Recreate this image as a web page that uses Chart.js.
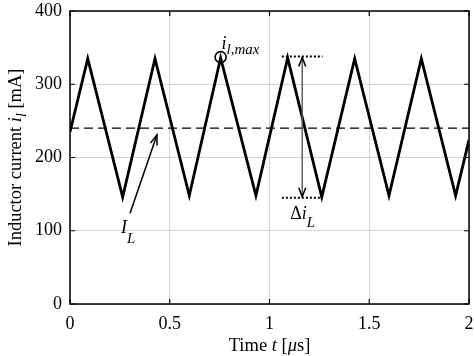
<!DOCTYPE html>
<html>
<head>
<meta charset="utf-8">
<script src="https://cdn.jsdelivr.net/npm/chart.js@4.4.1/dist/chart.umd.min.js"></script>
<style>
  html, body { margin: 0; padding: 0; background: #fff; }
  #wrap { width: 474px; height: 356px; }
</style>
</head>
<body>
<div id="wrap"><canvas id="c" width="474" height="356"></canvas></div>
<script>
// ---- data ----
const vertexTimes    = [0, 0.089, 0.264, 0.426, 0.598, 0.755, 0.932, 1.091, 1.262, 1.427, 1.599, 1.761, 1.933, 2.0];
const vertexCurrents = [235, 335, 146, 335, 148, 336, 148, 336, 146, 335, 148, 335, 148, 224];
const meanCurrent = 240;
const meanTimes = [0, 2];
const xTickValues = [0, 0.5, 1, 1.5, 2];
const yTickValues = [0, 100, 200, 300, 400];
// annotation anchors (data units)
const peakMarker = { t: 0.755, i: 337 };
const rippleTop = 338, rippleBottom = 145;
const rippleSpan = [1.062, 1.266];
const rippleArrowT = 1.164;
const meanArrowTail = { t: 0.301, i: 124 };
const meanArrowHead = { t: 0.436, i: 231 };

const FONT = "'Liberation Serif', 'Times New Roman', serif";

function drawMixed(ctx, segs, x, y, align) {
  let total = 0;
  const widths = segs.map(s => {
    ctx.font = (s.italic ? 'italic ' : '') + s.size + 'px ' + FONT;
    const w = ctx.measureText(s.text).width;
    total += w;
    return w;
  });
  let cx = align === 'center' ? x - total / 2 : x;
  segs.forEach((s, k) => {
    ctx.font = (s.italic ? 'italic ' : '') + s.size + 'px ' + FONT;
    ctx.fillText(s.text, cx, y + (s.dy || 0));
    cx += widths[k];
  });
}

function arrowHead(ctx, tx, ty, ang, len, hw) {
  const bx = tx - Math.cos(ang) * len, by = ty - Math.sin(ang) * len;
  const nx = -Math.sin(ang) * hw, ny = Math.cos(ang) * hw;
  ctx.beginPath();
  ctx.moveTo(bx + nx, by + ny);
  ctx.lineTo(tx, ty);
  ctx.lineTo(bx - nx, by - ny);
  ctx.stroke();
}

const decorPlugin = {
  id: 'decor',
  afterDraw(chart) {
    const ctx = chart.ctx;
    const xs = chart.scales.x, ys = chart.scales.y;
    const a = chart.chartArea;
    ctx.save();
    ctx.strokeStyle = '#000';
    ctx.lineWidth = 1.5;
    ctx.strokeRect(a.left, a.top, a.right - a.left, a.bottom - a.top);
    ctx.lineWidth = 1.2;
    const tl = 5;
    xTickValues.forEach(v => {
      const px = xs.getPixelForValue(v);
      ctx.beginPath();
      ctx.moveTo(px, a.bottom); ctx.lineTo(px, a.bottom - tl);
      ctx.moveTo(px, a.top); ctx.lineTo(px, a.top + tl);
      ctx.stroke();
    });
    yTickValues.forEach(v => {
      const py = ys.getPixelForValue(v);
      ctx.beginPath();
      ctx.moveTo(a.left, py); ctx.lineTo(a.left + tl, py);
      ctx.moveTo(a.right, py); ctx.lineTo(a.right - tl, py);
      ctx.stroke();
    });

    const cx = xs.getPixelForValue(peakMarker.t), cy = ys.getPixelForValue(peakMarker.i);
    ctx.lineWidth = 1.6;
    ctx.beginPath(); ctx.arc(cx, cy, 5.5, 0, Math.PI * 2); ctx.stroke();

    ctx.setLineDash([2, 2]);
    ctx.lineWidth = 2;
    const x0 = xs.getPixelForValue(rippleSpan[0]), x1 = xs.getPixelForValue(rippleSpan[1]);
    const yt = ys.getPixelForValue(rippleTop), yb = ys.getPixelForValue(rippleBottom);
    ctx.beginPath();
    ctx.moveTo(x0, yt); ctx.lineTo(x1, yt);
    ctx.moveTo(x0, yb); ctx.lineTo(x1, yb);
    ctx.stroke();
    ctx.setLineDash([]);

    const ax = xs.getPixelForValue(rippleArrowT);
    ctx.strokeStyle = '#555';
    ctx.lineWidth = 1.4;
    ctx.beginPath(); ctx.moveTo(ax, yt + 1); ctx.lineTo(ax, yb - 1); ctx.stroke();
    ctx.strokeStyle = '#000';
    ctx.lineWidth = 1.5;
    arrowHead(ctx, ax, yt + 1, -Math.PI / 2, 9, 3.5);
    arrowHead(ctx, ax, yb - 1, Math.PI / 2, 9, 3.5);

    const tx0 = xs.getPixelForValue(meanArrowTail.t), ty0 = ys.getPixelForValue(meanArrowTail.i);
    const tx1 = xs.getPixelForValue(meanArrowHead.t), ty1 = ys.getPixelForValue(meanArrowHead.i);
    ctx.lineWidth = 1.5;
    ctx.beginPath(); ctx.moveTo(tx0, ty0); ctx.lineTo(tx1, ty1); ctx.stroke();
    arrowHead(ctx, tx1, ty1, Math.atan2(ty1 - ty0, tx1 - tx0), 10, 3.5);

    ctx.fillStyle = '#000';
    ctx.textBaseline = 'alphabetic';
    ctx.textAlign = 'left';
    drawMixed(ctx, [
      { text: 'i', italic: true, size: 18 },
      { text: 'l,max', italic: true, size: 15, dy: 5 }
    ], cx + 1, cy - 8, 'left');
    drawMixed(ctx, [
      { text: '\u0394', italic: false, size: 18 },
      { text: 'i', italic: true, size: 18 },
      { text: 'L', italic: true, size: 15, dy: 8 }
    ], ax - 12, yb + 21, 'left');
    drawMixed(ctx, [
      { text: 'I', italic: true, size: 18 },
      { text: 'L', italic: true, size: 15, dy: 10 }
    ], tx0 - 9, ty0 + 20, 'left');

    drawMixed(ctx, [
      { text: 'Time ', italic: false, size: 18.5 },
      { text: 't', italic: true, size: 18.5 },
      { text: ' [', italic: false, size: 18.5 },
      { text: '\u03BC', italic: true, size: 18.5 },
      { text: 's]', italic: false, size: 18.5 }
    ], (a.left + a.right) / 2, 351, 'center');

    ctx.translate(20.5, (a.top + a.bottom) / 2);
    ctx.rotate(-Math.PI / 2);
    drawMixed(ctx, [
      { text: 'Inductor current ', italic: false, size: 18.5 },
      { text: 'i', italic: true, size: 18.5 },
      { text: 'l', italic: true, size: 14, dy: 5 },
      { text: ' [mA]', italic: false, size: 18.5 }
    ], 0, 0, 'center');
    ctx.restore();
  }
};

const tracePoints = vertexTimes.map((t, k) => ({ x: t, y: vertexCurrents[k] }));
const meanPoints = meanTimes.map(t => ({ x: t, y: meanCurrent }));

new Chart(document.getElementById('c'), {
  type: 'line',
  data: {
    datasets: [
      {
        label: 'I_L',
        data: meanPoints,
        borderColor: '#000',
        borderWidth: 1.3,
        borderDash: [9, 5],
        pointRadius: 0,
        fill: false
      },
      {
        label: 'i_l',
        data: tracePoints,
        borderColor: '#000',
        borderWidth: 2.8,
        pointRadius: 0,
        tension: 0,
        fill: false,
        borderJoinStyle: 'miter'
      }
    ]
  },
  options: {
    responsive: false,
    animation: false,
    layout: { padding: { left: 0, right: 5, top: 11, bottom: 0 } },
    plugins: { legend: { display: false }, tooltip: { enabled: false } },
    scales: {
      x: {
        type: 'linear',
        min: 0, max: 2,
        afterBuildTicks(scale) { scale.ticks = xTickValues.map(v => ({ value: v })); },
        afterFit(scale) { scale.height = 52; scale.paddingLeft = 0; scale.paddingRight = 0; },
        ticks: {
          color: '#000',
          font: { family: FONT, size: 18 },
          padding: 9,
          maxRotation: 0,
          callback: v => String(v)
        },
        grid: { color: '#d4d4d4', lineWidth: 1, drawTicks: false },
        border: { display: false },
        title: { display: false }
      },
      y: {
        type: 'linear',
        min: 0, max: 400,
        afterBuildTicks(scale) { scale.ticks = yTickValues.map(v => ({ value: v })); },
        afterFit(scale) { scale.width = 70; scale.paddingTop = 0; scale.paddingBottom = 0; },
        ticks: {
          color: '#000',
          font: { family: FONT, size: 18 },
          padding: 8,
          callback: v => String(v)
        },
        grid: { color: '#d4d4d4', lineWidth: 1, drawTicks: false },
        border: { display: false },
        title: { display: false }
      }
    }
  },
  plugins: [decorPlugin]
});
</script>
</body>
</html>
